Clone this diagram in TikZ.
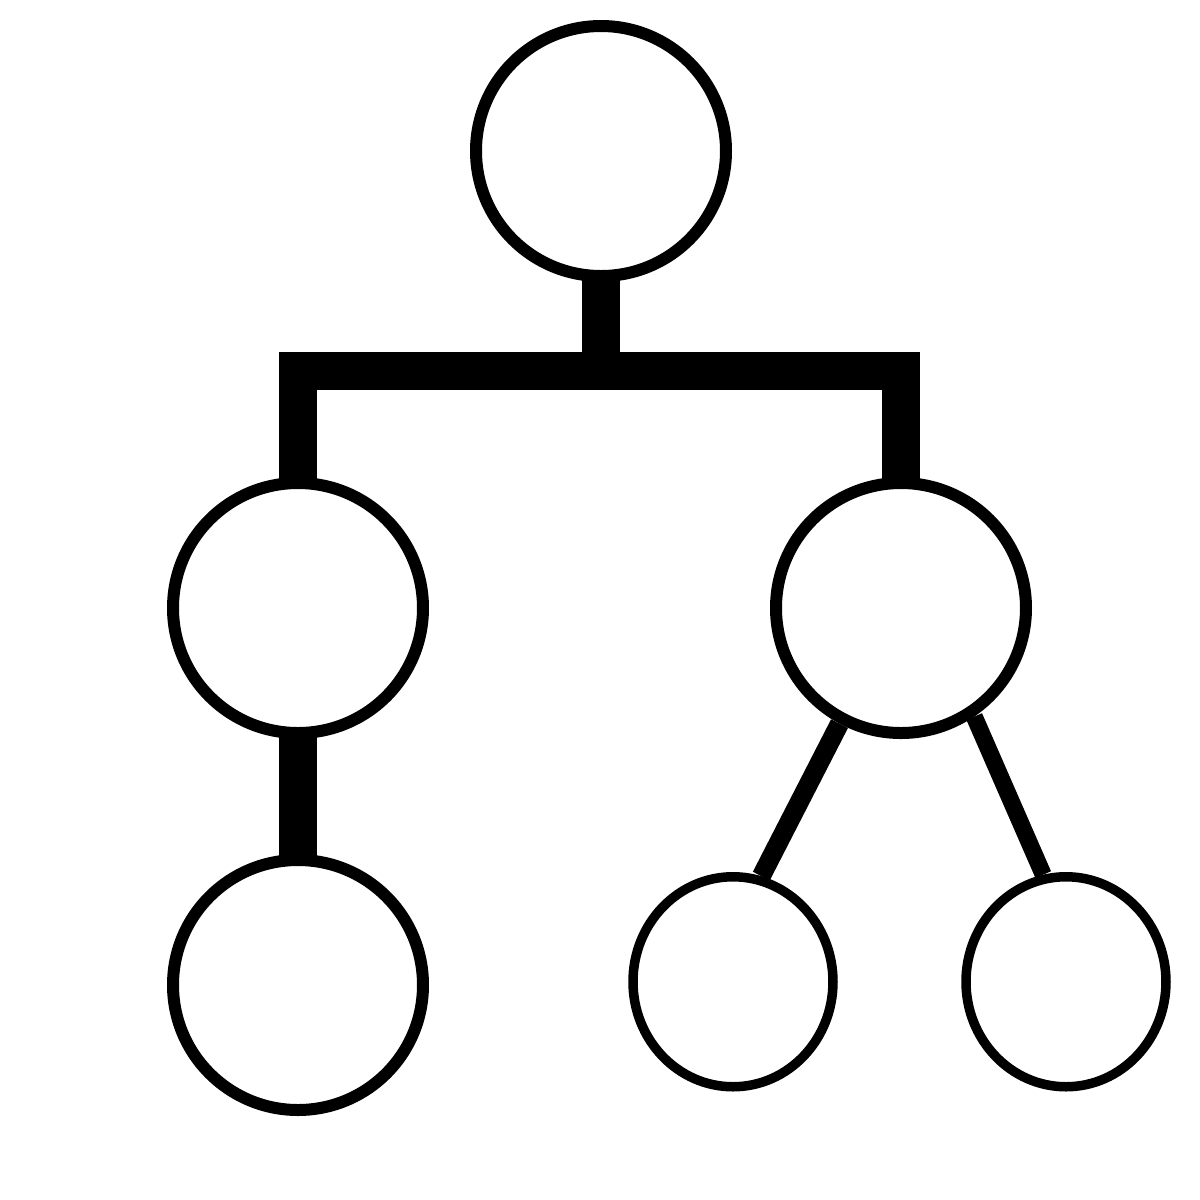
\documentclass[tikz,border=0pt]{standalone}
\usepackage{tikz}
\usetikzlibrary{shapes.geometric}
\usetikzlibrary{positioning}
\usetikzlibrary{backgrounds}

\tikzset{
  nodo/.style={circle, draw, fill=white, line width=0.12cm, minimum size=2.5cm, inner sep=0pt},
  hoja/.style={ellipse, draw, fill=white, line width=0.095cm, minimum width=2.0cm, minimum height=2.1cm, inner sep=0pt},
  barra/.style={line width=0.38cm, line join=miter},
  rama/.style={line width=0.18cm}
}

\begin{document}
\begin{tikzpicture}
  \useasboundingbox (0,0) rectangle (12,-12);

  % Nodo de arriba
  \node[nodo] (raiz) at (6.01,-1.51) {};

  % Nodos del medio
  \node[nodo, below=1.95cm of raiz, xshift=-3.03cm] (izq) {};
  \node[nodo, below=1.95cm of raiz, xshift=3cm] (der) {};

  % Nodos de abajo
  \node[nodo, below=1.15cm of izq] (izqabajo) {};
  \node[hoja, below=1.33cm of der, xshift=-1.68cm] (hojaA) {};
  \node[hoja, below=1.33cm of der, xshift=1.65cm] (hojaB) {};

  \coordinate (centro) at ([yshift=-2.2cm]raiz.center);

  % Conexiones
  \begin{scope}[on background layer]
    \draw[barra] (raiz.center) -- (centro);
    \draw[barra] (izq.center) |- (centro) -| (der.center);
    \draw[barra] (izq.center) -- (izqabajo.center);
    \draw[rama, line width=0.19cm] (der.242) -- (hojaA.75);
    \draw[rama, line width=0.17cm] (der.304) -- (hojaB.102);
  \end{scope}
\end{tikzpicture}
\end{document}
